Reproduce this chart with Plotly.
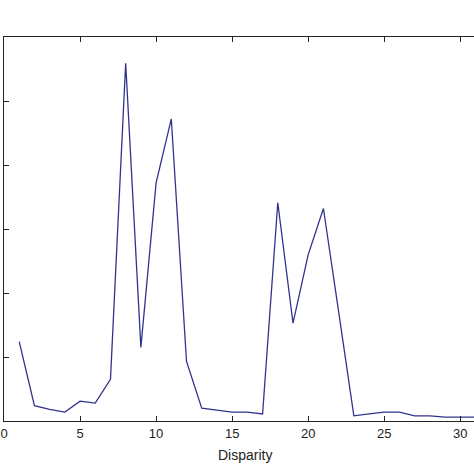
import plotly.graph_objects as go

# disparity histogram, values
disparity = list(range(1, 32))
counts = [1.24, 0.24, 0.18, 0.14, 0.31, 0.28, 0.65, 5.59, 1.15, 3.72,
          4.72, 0.93, 0.20, 0.17, 0.14, 0.14, 0.11, 3.41, 1.53, 2.60,
          3.32, 1.71, 0.08, 0.11, 0.14, 0.14, 0.08, 0.08, 0.06, 0.06,
          0.06]

fig = go.Figure()
fig.add_trace(go.Scatter(x=disparity, y=counts, mode='lines',
                         line=dict(color='#33338f', width=1.3),
                         hoverinfo='skip'))

fig.update_layout(
    width=474, height=474, autosize=False,
    margin=dict(l=4, r=0, t=37, b=53),
    plot_bgcolor='white', paper_bgcolor='white',
    showlegend=False,
    font=dict(family='Liberation Sans, Arial', size=13, color='#222'),
)
fig.update_xaxes(range=[0, 30.9], tickvals=[0, 5, 10, 15, 20, 25, 30],
                 ticks='inside', ticklen=5, tickcolor='#222',
                 showline=True, linecolor='#222', linewidth=1,
                 mirror='ticks', showgrid=False, zeroline=False,
                 automargin=False)
fig.update_yaxes(range=[0, 6], dtick=1, showticklabels=False,
                 ticks='inside', ticklen=5, tickcolor='#222',
                 showline=True, linecolor='#222', linewidth=1,
                 mirror=False, showgrid=False, zeroline=False,
                 automargin=False)

fig.add_annotation(text='Disparity', xref='paper', yref='paper',
                   x=0.513, y=0, yshift=-34, yanchor='middle',
                   showarrow=False, font=dict(size=14))

# page has an 8px body margin by default, drop it so the plot sits at 0,0
fig.write_html("out.html", config={'displayModeBar': False},
               post_script="document.body.style.margin='0';")
